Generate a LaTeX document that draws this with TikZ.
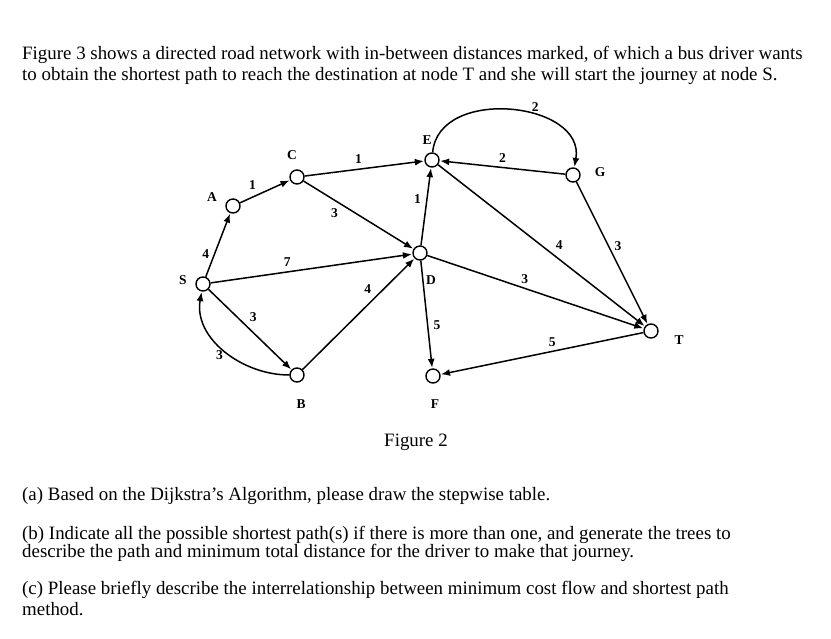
\documentclass[tikz,border=0pt]{standalone}
\usepackage{fontspec}
\setmainfont{Liberation Serif}
\usetikzlibrary{arrows.meta}
\begin{document}
\begin{tikzpicture}[x=1pt,y=-1pt,
  v/.style={circle,draw,line width=1.4pt,fill=white,minimum size=14pt,inner sep=0pt},
  e/.style={line width=1.5pt,-{Latex[length=9pt,width=7pt]},shorten >=0.5pt},
  lb/.style={font=\bfseries\fontsize{13.5}{13.5}\selectfont},
  tx/.style={anchor=west,font=\fontsize{18.9}{22}\selectfont,inner sep=0pt}]
\useasboundingbox (0,0) rectangle (831,638);
\node[tx] (t1) at (22,55) {Figure 3 shows a directed road network with in-between distances marked, of which a bus driver wants};
\node[tx] (t2) at (22,76) {to obtain the shortest path to reach the destination at node T and she will start the journey at node S.};
\node (S) [v] at (203,284) {};
\node (A) [v] at (233,206) {};
\node (C) [v] at (297,177) {};
\node (E) [v] at (432,160) {};
\node (G) [v] at (573,175) {};
\node (D) [v] at (420,253) {};
\node (B) [v] at (297,375) {};
\node (F) [v] at (433,376) {};
\node (T) [v] at (651,331) {};
\node[lb] (lS) at (183,280) {S};
\node[lb] (lA) at (212,197) {A};
\node[lb] (lC) at (292,155) {C};
\node[lb] (lE) at (427,140) {E};
\node[lb] (lG) at (600,172) {G};
\node[lb] (lD) at (431,280) {D};
\node[lb] (lB) at (301,404) {B};
\node[lb] (lF) at (435,404) {F};
\node[lb] (lT) at (679,340) {T};
\draw[e] (S) -- node[lb,left=1pt,pos=0.35]{4} (A);
\draw[e] (A) -- node[lb,above left=0pt,pos=0.4]{1} (C);
\draw[e] (C) -- node[lb,above=2pt,pos=0.45]{1} (E);
\draw[e] (C) -- node[lb,below left=0pt,pos=0.35]{3} (D);
\draw[e] (S) -- node[lb,above=1pt,pos=0.38]{7} (D);
\draw[e] (S) -- node[lb,above right=0pt,pos=0.45]{3} (B);
\draw[e] (B) to[out=180,in=-100] node[lb,left=3pt,pos=0.45]{3} (S);
\draw[e] (B) -- node[lb,above left=0pt,pos=0.65]{4} (D);
\draw[e] (D) -- node[lb,left=2pt,pos=0.6]{1} (E);
\draw[e] (G) -- node[lb,above=1pt]{2} (E);
\draw[e] (E) to[out=85,in=80,looseness=1.2] node[lb,above=0pt,pos=0.62]{2} (G);
\draw[e] (E) -- node[lb,above right=0pt,pos=0.55]{4} (T);
\draw[e] (D) -- node[lb,above=1pt,pos=0.45]{3} (T);
\draw[e] (G) -- node[lb,right=2pt,pos=0.45]{3} (T);
\draw[e] (D) -- node[lb,right=2pt,pos=0.6]{5} (F);
\draw[e] (T) -- node[lb,above=1pt,pos=0.45]{5} (F);
\node[font=\fontsize{18.9}{22}\selectfont] (fig) at (416,442) {Figure 2};
\node[tx] (qa) at (22,496) {(a) Based on the Dijkstra's Algorithm, please draw the stepwise table.};
\node[tx] (qb1) at (22,535) {(b) Indicate all the possible shortest path(s) if there is more than one, and generate the trees to};
\node[tx] (qb2) at (22,553) {describe the path and minimum total distance for the driver to make that journey.};
\node[tx] (qc1) at (22,590) {(c) Please briefly describe the interrelationship between minimum cost flow and shortest path};
\node[tx] (qc2) at (22,609) {method.};
\end{tikzpicture}
\end{document}
